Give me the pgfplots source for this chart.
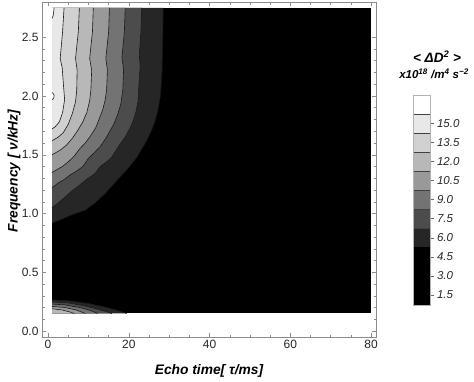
\documentclass[border=0pt]{standalone}
\usepackage{fontspec}
\setmainfont{Liberation Sans}
\usepackage{pgfplots}
\usepackage{pgfplotstable}
\pgfplotsset{compat=1.18}
\definecolor{g1}{gray}{0.15}
\definecolor{g2}{gray}{0.30}
\definecolor{g3}{gray}{0.45}
\definecolor{g4}{gray}{0.60}
\definecolor{g5}{gray}{0.72}
\definecolor{g6}{gray}{0.82}
\definecolor{g7}{gray}{0.91}
% contour level 5.25 (first row = corner)
\pgfplotstableread{
x y
1 2.75
28.5 2.75
28.4 2.5
28.2 2.2
27.8 2.0
27.2 1.88
26.5 1.79
25.5 1.70
24.4 1.62
23.2 1.55
22.0 1.48
19.9 1.39
17.0 1.28
14.1 1.17
11.6 1.09
9.2 1.03
5.9 0.99
2.5 0.94
1 0.92
}\tA
\pgfplotstableread{
x y
1 2.75
23.2 2.75
23.0 2.55
22.6 2.35
22.8 2.25
22.5 2.10
22.3 1.96
21.8 1.87
21.1 1.79
20.2 1.72
19.1 1.65
17.4 1.57
15.8 1.48
14.5 1.44
12.9 1.40
11.6 1.34
9.5 1.29
7.4 1.23
5.8 1.19
4.2 1.14
2.5 1.09
1 1.05
}\tB
\pgfplotstableread{
x y
1 2.75
19.1 2.75
18.9 2.55
18.3 2.33
18.7 2.22
18.5 2.05
18.0 1.93
17.2 1.84
16.4 1.77
15.3 1.70
14.3 1.64
12.9 1.57
11.5 1.52
10.0 1.47
8.6 1.40
7.0 1.36
5.5 1.33
4.0 1.29
2.5 1.26
1 1.22
}\tC
\pgfplotstableread{
x y
1 2.75
15.2 2.75
15.0 2.55
14.3 2.32
14.7 2.22
14.5 2.05
14.1 1.96
13.5 1.88
12.6 1.80
11.8 1.73
10.5 1.66
9.2 1.60
7.8 1.55
6.5 1.49
5.0 1.44
3.5 1.40
2.0 1.37
1 1.35
}\tD
\pgfplotstableread{
x y
1 2.75
11.2 2.75
11.0 2.55
10.3 2.32
10.8 2.22
10.6 2.05
10.3 1.96
9.6 1.86
8.6 1.78
7.4 1.71
6.0 1.64
4.5 1.58
3.0 1.54
1 1.50
}\tE
\pgfplotstableread{
x y
1 2.75
7.75 2.75
7.5 2.55
6.8 2.32
7.2 2.22
7.1 2.05
6.8 1.95
6.0 1.85
5.0 1.76
3.8 1.69
2.5 1.65
1 1.62
}\tF
\pgfplotstableread{
x y
1 2.75
3.96 2.75
3.6 2.55
3.0 2.32
3.5 2.24
3.8 2.10
4.1 1.97
3.6 1.86
2.8 1.78
1.8 1.74
1 1.72
}\tG
\pgfplotstableread{
x y
1 2.75
1.5 2.75
1.3 2.69
1 2.66
}\tH
\pgfplotstableread{
x y
1 1.97
1 1.97
1.4 1.98
1.5 2.01
1 2.03
}\tI
% bottom-left feature (first row = corner)
\pgfplotstableread{
x y
1 0.15
19.5 0.15
17 0.178
14 0.205
10 0.235
5 0.258
1 0.265
}\bA
\pgfplotstableread{
x y
1 0.15
15.8 0.15
14.5 0.165
12 0.19
9 0.215
5 0.24
1 0.248
}\bB
\pgfplotstableread{
x y
1 0.15
12.3 0.15
10.5 0.175
8 0.20
4 0.224
1 0.23
}\bC
\pgfplotstableread{
x y
1 0.15
9.2 0.15
7 0.18
4 0.202
1 0.21
}\bD
\pgfplotstableread{
x y
1 0.15
6.5 0.15
5.5 0.162
3.5 0.18
1 0.19
}\bE
\pgfplotsset{cline/.style={black!90, line width=0.6pt, line join=round}}
\begin{document}
\begin{tikzpicture}[x=1pt,y=1pt]
\path[use as bounding box] (0,0) rectangle (474,381);
\begin{axis}[at={(42pt,44pt)}, anchor=south west, scale only axis,
  width=334pt, height=335pt,
  xmin=-1.5, xmax=81.2, ymin=-0.05, ymax=2.80,
  axis line style={black!45, line width=0.8pt},
  xtick={0,20,40,60,80}, ytick={0,0.5,1,1.5,2,2.5},
  minor x tick num=3, minor y tick num=4,
  tick align=inside, tick style={black!45, line width=0.6pt},
  major tick length=4pt, minor tick length=2.5pt,
  /pgf/number format/assume math mode=true,
  yticklabel style={/pgf/number format/fixed, /pgf/number format/fixed zerofill, /pgf/number format/precision=1},
  ticklabel style={font=\fontsize{12}{14}\selectfont, text=black!85},
  axis on top,
]
\addplot[fill=black, draw=none] coordinates {(1,0.15) (80,0.15) (80,2.75) (1,2.75)} --cycle;
\addplot[fill=g1, draw=none] table {\tA} --cycle;
\addplot[fill=g2, draw=none] table {\tB} --cycle;
\addplot[fill=g3, draw=none] table {\tC} --cycle;
\addplot[fill=g4, draw=none] table {\tD} --cycle;
\addplot[fill=g5, draw=none] table {\tE} --cycle;
\addplot[fill=g6, draw=none] table {\tF} --cycle;
\addplot[fill=g7, draw=none] table {\tG} --cycle;
\addplot[fill=white, draw=none] table {\tH} --cycle;
\addplot[fill=white, draw=none] table {\tI} --cycle;
\addplot[fill=g1, draw=none] table {\bA} --cycle;
\addplot[fill=g2, draw=none] table {\bB} --cycle;
\addplot[fill=g3, draw=none] table {\bC} --cycle;
\addplot[fill=g4, draw=none] table {\bD} --cycle;
\addplot[fill=g5, draw=none] table {\bE} --cycle;
\addplot[cline] table[skip coords between index={0}{1}] {\tA};
\addplot[cline] table[skip coords between index={0}{1}] {\tB};
\addplot[cline] table[skip coords between index={0}{1}] {\tC};
\addplot[cline] table[skip coords between index={0}{1}] {\tD};
\addplot[cline] table[skip coords between index={0}{1}] {\tE};
\addplot[cline] table[skip coords between index={0}{1}] {\tF};
\addplot[cline] table[skip coords between index={0}{1}] {\tG};
\addplot[cline] table[skip coords between index={0}{1}] {\tH};
\addplot[cline] table[skip coords between index={0}{1}] {\tI};
\addplot[cline] table[skip coords between index={0}{1}] {\bA};
\addplot[cline] table[skip coords between index={0}{1}] {\bB};
\addplot[cline] table[skip coords between index={0}{1}] {\bC};
\addplot[cline] table[skip coords between index={0}{1}] {\bD};
\addplot[cline] table[skip coords between index={0}{1}] {\bE};
\end{axis}
\begin{axis}[at={(413pt,76pt)}, anchor=south west, scale only axis,
  width=17pt, height=210pt,
  xmin=0, xmax=1, ymin=0.71, ymax=17.24,
  xtick=\empty, ytick={1.5,3,4.5,6,7.5,9,10.5,12,13.5,15},
  ytick pos=right, yticklabel pos=right, tick align=outside,
  major tick length=3.5pt, tick style={black!60, line width=0.5pt},
  axis line style={black!30, line width=0.6pt},
  /pgf/number format/assume math mode=true,
  yticklabel style={font=\itshape\fontsize{11.5}{13}\selectfont, text=black!85, /pgf/number format/fixed, /pgf/number format/fixed zerofill, /pgf/number format/precision=1},
  axis on top,
]
\addplot[fill=black, draw=none] coordinates {(0,0.71) (1,0.71) (1,5.25) (0,5.25)} --cycle;
\addplot[fill=g1, draw=none] coordinates {(0,5.25) (1,5.25) (1,6.75) (0,6.75)} --cycle;
\addplot[fill=g2, draw=none] coordinates {(0,6.75) (1,6.75) (1,8.25) (0,8.25)} --cycle;
\addplot[fill=g3, draw=none] coordinates {(0,8.25) (1,8.25) (1,9.75) (0,9.75)} --cycle;
\addplot[fill=g4, draw=none] coordinates {(0,9.75) (1,9.75) (1,11.25) (0,11.25)} --cycle;
\addplot[fill=g5, draw=none] coordinates {(0,11.25) (1,11.25) (1,12.75) (0,12.75)} --cycle;
\addplot[fill=g6, draw=none] coordinates {(0,12.75) (1,12.75) (1,14.25) (0,14.25)} --cycle;
\addplot[fill=g7, draw=none] coordinates {(0,14.25) (1,14.25) (1,15.75) (0,15.75)} --cycle;
\addplot[fill=white, draw=none] coordinates {(0,15.75) (1,15.75) (1,17.24) (0,17.24)} --cycle;
\addplot[black!75, line width=0.5pt] coordinates {(0,6.75) (1,6.75)};
\addplot[black!75, line width=0.5pt] coordinates {(0,8.25) (1,8.25)};
\addplot[black!75, line width=0.5pt] coordinates {(0,9.75) (1,9.75)};
\addplot[black!75, line width=0.5pt] coordinates {(0,11.25) (1,11.25)};
\addplot[black!75, line width=0.5pt] coordinates {(0,12.75) (1,12.75)};
\addplot[black!75, line width=0.5pt] coordinates {(0,14.25) (1,14.25)};
\addplot[black!75, line width=0.5pt] coordinates {(0,15.75) (1,15.75)};
\end{axis}
\node[font=\bfseries\itshape\fontsize{13.8}{15}\selectfont] at (209,10) {Echo time[ τ/ms]};
\node[font=\bfseries\itshape\fontsize{13.8}{15}\selectfont, rotate=90] at (14,210) {Frequency [ ν/kHz]};
\node[font=\bfseries\itshape\fontsize{13.5}{15}\selectfont, inner sep=0pt] at (437,324) {< ΔD\textsuperscript{2} >};
\node[font=\bfseries\itshape\fontsize{11.5}{13}\selectfont, inner sep=0pt] at (434,307) {x10\textsuperscript{18} /m\textsuperscript{4} s\textsuperscript{−2}};
\end{tikzpicture}
\end{document}
